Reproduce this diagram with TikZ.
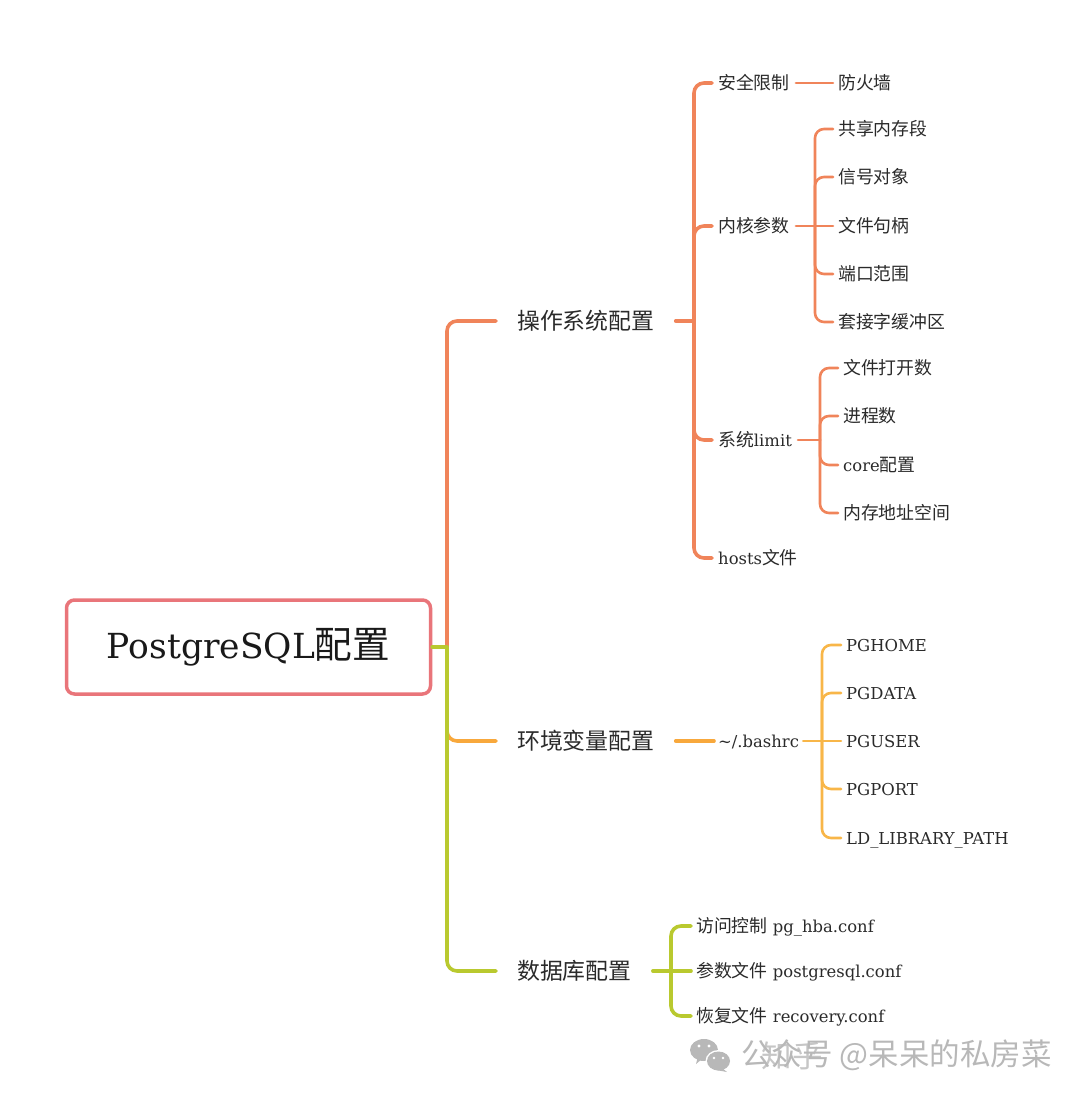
\documentclass[tikz,border=0pt]{standalone}
\usepackage{fontspec}
\setmainfont{DejaVu Serif}
\newfontfamily\cjk[Scale=1.09]{Noto Sans CJK SC}
\newcommand{\zh}[1]{{\cjk #1}}
\definecolor{rootred}{HTML}{E9757A}
\definecolor{osorange}{HTML}{F0845A}
\definecolor{envyellow}{HTML}{F8B648}
\definecolor{envorange}{HTML}{F8A83C}
\definecolor{dbgreen}{HTML}{B9C92F}
\definecolor{inktext}{HTML}{2A2A2A}
\definecolor{markgrey}{HTML}{B8B8B8}
\tikzset{
  rootbox/.style={draw=rootred, line width=3.5pt, rounded corners=8pt, fill=white, minimum width=364pt, minimum height=94pt, text=black!90, font=\fontsize{34.5}{37}\selectfont},
  topic/.style={anchor=west, inner xsep=21pt, inner ysep=0pt, text=inktext, text height=21pt, text depth=5pt, font=\fontsize{21}{24}\selectfont},
  leaf/.style={anchor=west, inner xsep=5pt, inner ysep=0pt, text=inktext, text height=18pt, text depth=5pt, font=\fontsize{16.4}{18}\selectfont},
  fatline/.style={line width=3.6pt, rounded corners=10pt, line cap=round},
  thinline/.style={line width=2.6pt, rounded corners=9pt, line cap=round},
  watermark/.style={text=markgrey, inner sep=0pt, font=\fontsize{28}{28}\selectfont\cjk}
}
\begin{document}
\begin{tikzpicture}[x=1pt,y=-1pt]
    \useasboundingbox (0,0) rectangle (1080,1100);

    \node[rootbox] (root) at (248.5,647) {PostgreSQL\zh{配置}};

    \coordinate (hubroot) at (447,647);
    \coordinate (hubos) at (694,321);
    \coordinate (hubkernel) at (815,226);
    \coordinate (hublimit) at (820,440);
    \coordinate (hubenv) at (822,741);
    \coordinate (hubdb) at (671,971);

    % main topics
    \node[topic] (os) at (496,321) {\zh{操作系统配置}};
    \node[topic] (env) at (496,741) {\zh{环境变量配置}};
    \node[topic] (db) at (496,971) {\zh{数据库配置}};

    % second level
    \node[leaf,inner xsep=6pt] (security) at (712,83) {\zh{安全限制}};
    \node[leaf,inner xsep=6pt] (kernel) at (712,226) {\zh{内核参数}};
    \node[leaf,inner xsep=6pt] (limit) at (712,440) {\zh{系统}limit};
    \node[leaf,inner xsep=6pt] (hosts) at (712,558) {hosts\zh{文件}};
    \node[leaf,inner xsep=4pt] (bashrc) at (714,741) {\textasciitilde/.bashrc};
    \node[leaf] (hba) at (691,926) {\zh{访问控制} pg\_hba.conf};
    \node[leaf] (pgconf) at (691,971) {\zh{参数文件} postgresql.conf};
    \node[leaf] (recovery) at (691,1016) {\zh{恢复文件} recovery.conf};

    % third level
    \node[leaf] (firewall) at (833,83) {\zh{防火墙}};
    \node[leaf] (shm) at (833,129) {\zh{共享内存段}};
    \node[leaf] (signal) at (833,177) {\zh{信号对象}};
    \node[leaf] (handle) at (833,226) {\zh{文件句柄}};
    \node[leaf] (port) at (833,274) {\zh{端口范围}};
    \node[leaf] (sockbuf) at (833,322) {\zh{套接字缓冲区}};
    \node[leaf] (nofile) at (838,368) {\zh{文件打开数}};
    \node[leaf] (nproc) at (838,416) {\zh{进程数}};
    \node[leaf] (core) at (838,465) {core\zh{配置}};
    \node[leaf] (addrspace) at (838,513) {\zh{内存地址空间}};
    \node[leaf] (pghome) at (841,645) {PGHOME};
    \node[leaf] (pgdata) at (841,693) {PGDATA};
    \node[leaf] (pguser) at (841,741) {PGUSER};
    \node[leaf] (pgport) at (841,789) {PGPORT};
    \node[leaf] (ldpath) at (841,838) {LD\_LIBRARY\_PATH};

    % root branches
    \draw[fatline, envorange] (hubroot) |- (env.west);
    \draw[fatline, osorange] (hubroot) |- (os.west);
    \draw[fatline, dbgreen] (root.east) -- (hubroot);
    \draw[fatline, dbgreen] (hubroot) |- (db.west);

    % operating system branch
    \draw[fatline, osorange] (os.east) -- (hubos);
    \draw[fatline, osorange] (hubos) |- (security.west);
    \draw[fatline, osorange] (hubos) |- (kernel.west);
    \draw[fatline, osorange] (hubos) |- (limit.west);
    \draw[fatline, osorange] (hubos) |- (hosts.west);
    \draw[thinline, osorange] (security.east) -- (firewall.west);
    \draw[thinline, osorange] (kernel.east) -- (handle.west);
    \draw[thinline, osorange] (hubkernel) |- (shm.west);
    \draw[thinline, osorange] (hubkernel) |- (signal.west);
    \draw[thinline, osorange] (hubkernel) |- (port.west);
    \draw[thinline, osorange] (hubkernel) |- (sockbuf.west);
    \draw[thinline, osorange] (limit.east) -- (hublimit);
    \draw[thinline, osorange] (hublimit) |- (nofile.west);
    \draw[thinline, osorange] (hublimit) |- (nproc.west);
    \draw[thinline, osorange] (hublimit) |- (core.west);
    \draw[thinline, osorange] (hublimit) |- (addrspace.west);

    % environment branch
    \draw[fatline, envorange] (env.east) -- (bashrc.west);
    \draw[thinline, envyellow] (bashrc.east) -- (pguser.west);
    \draw[thinline, envyellow] (hubenv) |- (pghome.west);
    \draw[thinline, envyellow] (hubenv) |- (pgdata.west);
    \draw[thinline, envyellow] (hubenv) |- (pgport.west);
    \draw[thinline, envyellow] (hubenv) |- (ldpath.west);

    % database branch
    \draw[fatline, dbgreen] (db.east) -- (pgconf.west);
    \draw[fatline, dbgreen] (hubdb) |- (hba.west);
    \draw[fatline, dbgreen] (hubdb) |- (recovery.west);

    % watermark
    \fill[markgrey] (704,1050) ellipse (14pt and 11pt);
    \fill[markgrey] (702,1059) -- (696,1064) -- (698,1056) -- cycle;
    \fill[white] (718.5,1061) ellipse (13pt and 11pt);
    \fill[markgrey] (718.5,1061) ellipse (11.5pt and 9.5pt);
    \fill[markgrey] (722,1068) -- (727,1072) -- (716,1070) -- cycle;
    \fill[white] (699,1046) circle (1.7pt) (709,1046) circle (1.7pt);
    \fill[white] (714,1058) circle (1.4pt) (723,1058) circle (1.4pt);
    \node[watermark, anchor=east] (markone) at (1052,1055) {\zh{公众号 @呆呆的私房菜}};
    \node[watermark, opacity=0.8] (marktwo) at (792,1056) {\zh{知乎}};
  \end{tikzpicture}
\end{document}
